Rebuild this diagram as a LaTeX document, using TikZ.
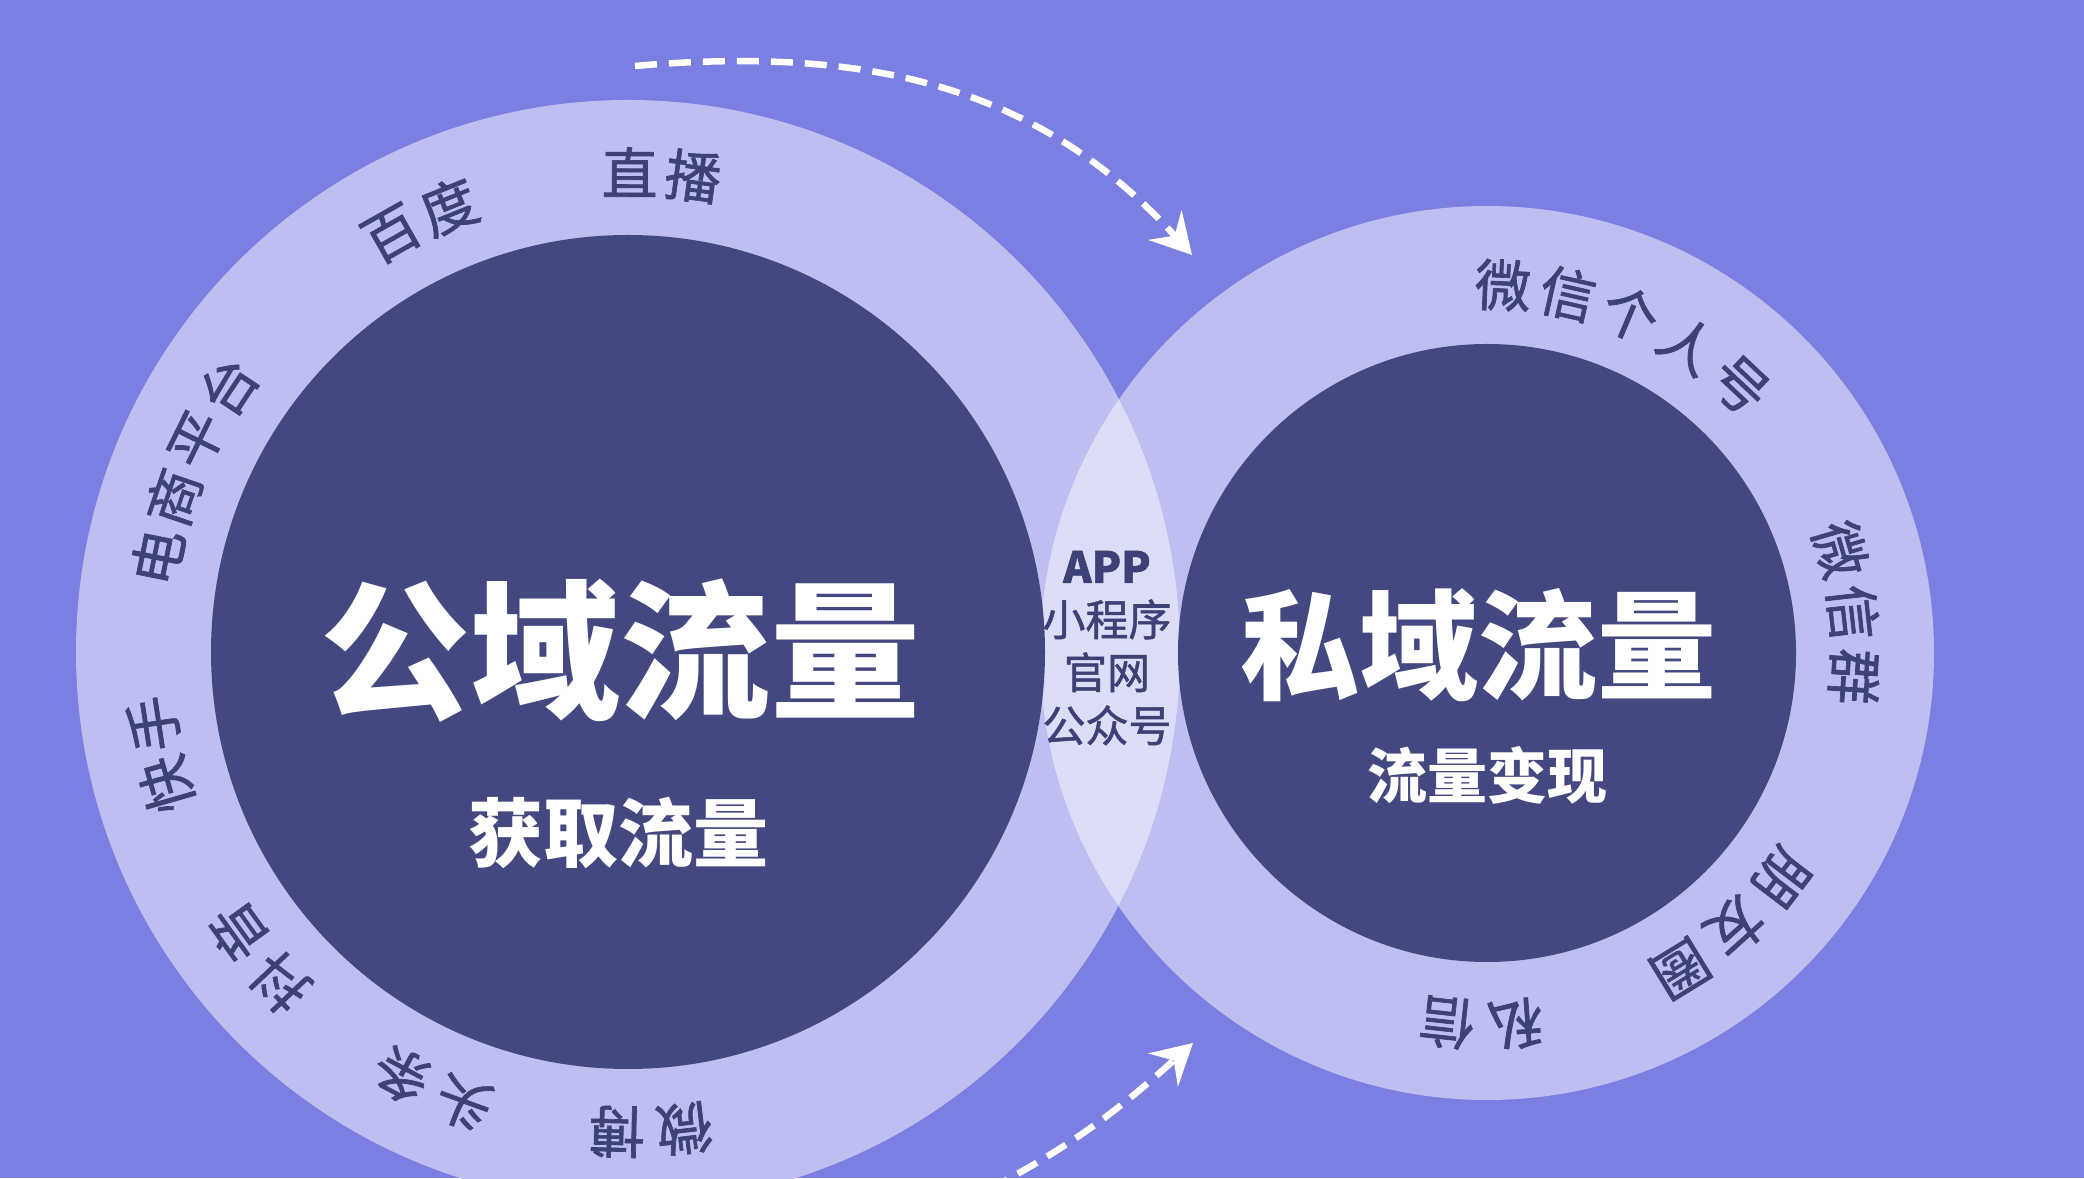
\documentclass[tikz,border=0pt]{standalone}
\usepackage{fontspec}
\setmainfont{Noto Sans CJK SC}
\usetikzlibrary{
    arrows.meta,   % For arrow tips
    calc,          % For coordinate calculations
}

\definecolor{bgBlue}{RGB}{123,127,225}
\definecolor{ringLav}{RGB}{190,190,240}
\definecolor{lensLav}{RGB}{220,221,246}
\definecolor{coreNavy}{RGB}{68,72,128}
\definecolor{ringInk}{RGB}{61,65,117}

% one character per node, set along a ring
\newcommand{\ringlabel}[6]{%
  \foreach \ch [count=\i] in {#5} {
    \pgfmathsetmacro\ang{#3-(\i-1)*#4}
    \node[ringtxt, rotate=\ang-90] (#6-\i) at ($(#1)+(\ang:#2)$) {\ch};
  }%
}

\begin{document}
\begin{tikzpicture}[
    x=1pt, y=1pt,
    >={Stealth[length=40pt, width=44pt, inset=14pt]}, % Set default arrow tip style
    ring/.style={fill=ringLav},      % outer rings
    core/.style={fill=coreNavy},     % dark inner discs
    ringtxt/.style={text=ringInk, inner sep=0pt, font=\fontsize{56}{56}\selectfont\addfontfeatures{FakeBold=1.2}},
    titletxt/.style={text=white, inner sep=0pt, font=\bfseries},
    lenstxt/.style={text=ringInk, align=center, inner sep=0pt, font=\fontsize{43}{53}\selectfont\addfontfeatures{FakeBold=1.2}},
    flowarrow/.style={->, white, line width=6.5pt, dash pattern=on 22pt off 12pt}
]

    % Canvas
    \useasboundingbox (0,0) rectangle (2084,1178);
    \fill[bgBlue] (0,0) rectangle (2084,1178);

    % Centres and radii
    \coordinate (pub) at (628,526);
    \coordinate (pri) at (1487,525);
    \def\rPubOut{552}
    \def\rPubIn{417}
    \def\rPriOut{447}
    \def\rPriIn{309}

    % Outer rings
    \fill[ring] (pub) circle (\rPubOut);
    \fill[ring] (pri) circle (\rPriOut);

    % Overlap of the two rings
    \begin{scope}
        \clip (pub) circle (\rPubOut);
        \fill[lensLav] (pri) circle (\rPriOut);
    \end{scope}

    % Inner discs
    \fill[core] (pub) circle (\rPubIn);
    \fill[core] (pri) circle (\rPriIn);

    % Titles
    \node[titletxt, font=\bfseries\fontsize{150}{150}\selectfont] (pubTitle) at (620,527) {公域流量};
    \node[titletxt, font=\bfseries\fontsize{75}{75}\selectfont] (pubSub) at (618,345) {获取流量};
    \node[titletxt, font=\bfseries\fontsize{119}{119}\selectfont] (priTitle) at (1478,533) {私域流量};
    \node[titletxt, font=\bfseries\fontsize{60}{60}\selectfont] (priSub) at (1487,403) {流量变现};

    % Shared channels in the overlap
    \node[lenstxt] (shared) at (1107,530) {\textbf{APP}\\小程序\\官网\\公众号};

    % Public ring labels
    \ringlabel{pub}{480}{89.8}{7.6}{直,播}{zb}
    \ringlabel{pub}{480}{119.5}{7.6}{百,度}{bd}
    \ringlabel{pub}{480}{168.6}{7.4}{电,商,平,台}{ds}
    \ringlabel{pub}{480}{196}{7.4}{快,手}{ks}
    \ringlabel{pub}{480}{223.5}{7.8}{抖,音}{dy}
    \ringlabel{pub}{480}{250}{8.2}{头,条}{tt}
    \ringlabel{pub}{480}{276.7}{8}{微,博}{wb}

    % Private ring labels
    \ringlabel{pri}{368}{87.5}{10.2}{微,信,个,人,号}{gr}
    \ringlabel{pri}{368}{16.3}{10}{微,信,群}{wq}
    \ringlabel{pri}{370}{-37.3}{10.6}{朋,友,圈}{py}
    \ringlabel{pri}{372}{274.3}{10.5}{私,信}{sx}

    % Flow arrows
    \coordinate (topFrom) at (635,1112);
    \coordinate (topTo) at (1192,923);
    \draw[flowarrow] (topFrom) to[out=5, in=132] (topTo);

    \coordinate (botFrom) at (988,-12);
    \coordinate (botTo) at (1193,135);
    \draw[flowarrow] (botFrom) to[out=28, in=222] (botTo);

\end{tikzpicture}
\end{document}
